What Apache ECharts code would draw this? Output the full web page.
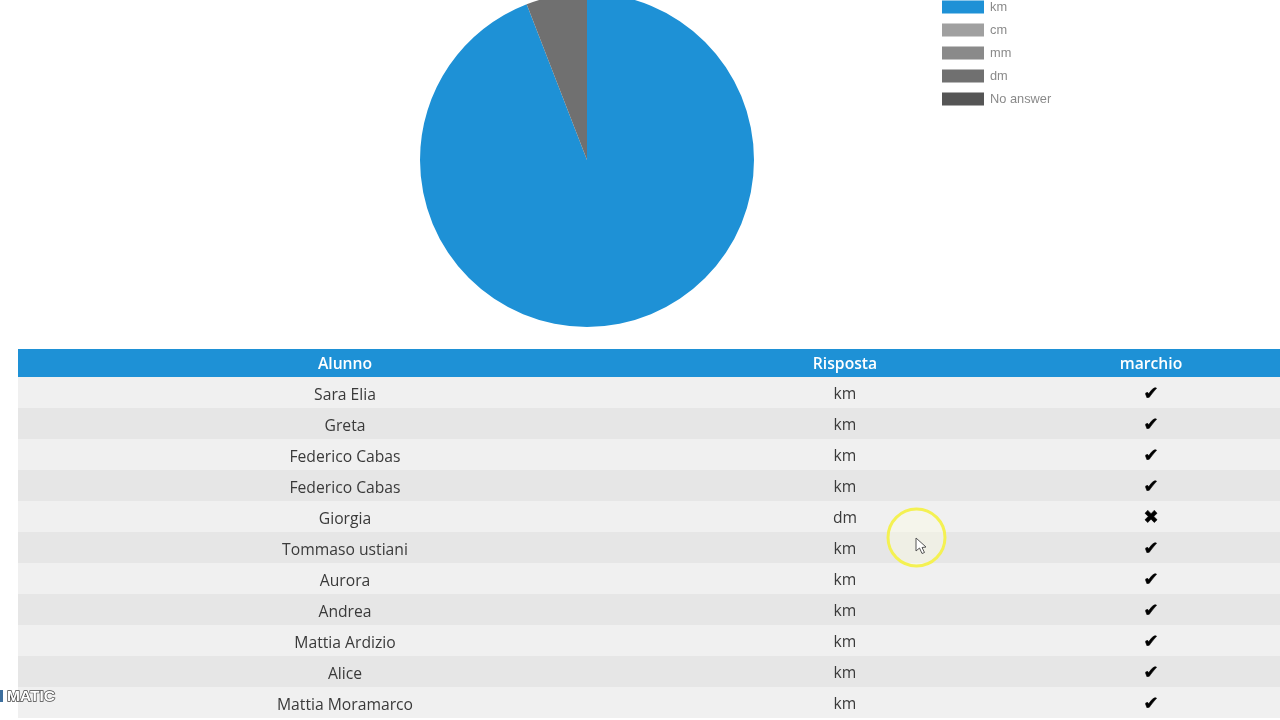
<!DOCTYPE html>
<html><head><meta charset="utf-8">
<style>html,body{margin:0;padding:0;background:#fff}#c{width:1280px;height:720px}</style>
<script src="https://cdn.jsdelivr.net/npm/echarts@6/dist/echarts.min.js"></script>
</head><body><div id="c"></div>
<script>
const answerLabels = ['km','cm','mm','dm','No answer'];
const answerCounts = [16,0,0,1,0];
const answerColors = ['#1e91d6','#a0a0a0','#8a8a8a','#707070','#555555'];
const tableHeaders = ['Alunno','Risposta','marchio'];
const students = ['Sara Elia','Greta','Federico Cabas','Federico Cabas','Giorgia','Tommaso ustiani','Aurora','Andrea','Mattia Ardizio','Alice','Mattia Moramarco'];
const answers = ['km','km','km','km','dm','km','km','km','km','km','km'];
const marks = ['✔','✔','✔','✔','✖','✔','✔','✔','✔','✔','✔'];

const font = '"Open Sans", sans-serif';
const colX = [345,845,1151];
const left = 18, top0 = 349, headH = 28, rowH = 31;
const g = [];
g.push({type:'rect',shape:{x:left,y:top0,width:1280-left,height:headH},style:{fill:'#1e91d6'},silent:true});
tableHeaders.forEach((h,i)=>g.push({type:'text',x:colX[i],y:top0+16,silent:true,
  style:{text:h,fill:'#fff',font:'600 15.7px '+font,align:'center',verticalAlign:'middle'}}));
students.forEach((s,i)=>{
  const y = top0+headH+i*rowH;
  g.push({type:'rect',shape:{x:left,y:y,width:1280-left,height:rowH},style:{fill:i%2?'#e6e6e6':'#f0f0f0'},silent:true});
  g.push({type:'text',x:colX[0],y:y+19,silent:true,style:{text:s,fill:'#3a3a3a',font:'15.7px '+font,align:'center',verticalAlign:'middle'}});
  g.push({type:'text',x:colX[1],y:y+18,silent:true,style:{text:answers[i],fill:'#3a3a3a',font:'15.7px '+font,align:'center',verticalAlign:'middle'}});
  g.push({type:'text',x:colX[2],y:y+17.5,silent:true,style:{text:marks[i],fill:'#000',stroke:'#000',lineWidth:0.5,font:'18px "DejaVu Sans"',align:'center',verticalAlign:'middle'}});
});
// cursor highlight and pointer seen in the screen capture
g.push({type:'circle',shape:{cx:916.5,cy:537.5,r:28.5},style:{fill:'rgba(255,255,225,0.35)',stroke:'#f4f152',lineWidth:3},silent:true});
g.push({type:'polyline',shape:{points:[[916,538],[916,551],[919.5,548],[922,553.5],[924.5,552.5],[922,547.5],[926,547],[916,538]]},style:{fill:'#fff',stroke:'#555',lineWidth:1},silent:true});
// broadcast watermark
g.push({type:'rect',shape:{x:0,y:690,width:3,height:12},style:{fill:'#3d6f9e'},silent:true});
g.push({type:'text',x:7,y:697,silent:true,style:{text:'MATIC',fill:'#fff',stroke:'#444',lineWidth:1.4,font:'bold 15.5px "Liberation Sans"',align:'left',verticalAlign:'middle'}});

const chart = echarts.init(document.getElementById('c'));
chart.setOption({
  animation:false,
  backgroundColor:'#fff',
  color:answerColors,
  legend:{orient:'vertical',left:942,top:0.5,itemWidth:42,itemHeight:13,itemGap:10,padding:0,
    icon:'rect',selectedMode:false,data:answerLabels,
    textStyle:{color:'#8a8a8a',fontSize:12.8,fontFamily:'"Liberation Sans"',padding:[0,0,0,1]}},
  series:[{type:'pie',center:[587,160],radius:[0,167],startAngle:90,clockwise:true,
    label:{show:false},labelLine:{show:false},silent:true,stillShowZeroSum:false,
    data:answerLabels.map((n,i)=>({name:n,value:answerCounts[i]}))}],
  graphic:{elements:g}
});
</script></body></html>
